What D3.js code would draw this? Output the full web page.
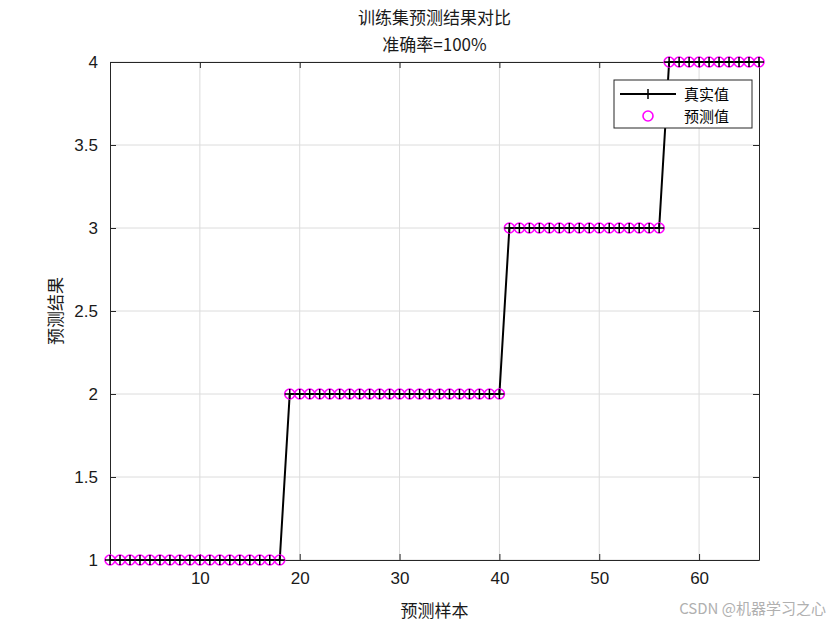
<!DOCTYPE html>
<html><head><meta charset="utf-8">
<script src="https://cdn.jsdelivr.net/npm/d3@7"></script>
<style>body{margin:0;background:#fff}</style>
</head><body><div id="container"></div>
<script>
// data: class label per sample (1..66)
let classCounts = [18, 22, 16, 10];
let classLabels = [1, 2, 3, 4];
let trueVals = [];
classCounts.forEach((c, i) => { for (let k = 0; k < c; k++) trueVals.push(classLabels[i]); });
let predVals = trueVals.slice();
let xTicks = [10, 20, 30, 40, 50, 60];
let yTicks = [1, 1.5, 2, 2.5, 3, 3.5, 4];

let w = 840, h = 630;
let pL = 110, pR = 759, pT = 62, pB = 560;
let cjk = "'Noto Sans CJK SC', sans-serif";
let num = "'Liberation Sans', Arial, sans-serif";

let svg = d3.select("#container").append("svg").attr("width", w).attr("height", h);
svg.append("rect").attr("width", w).attr("height", h).attr("fill", "#fff");

let x = d3.scaleLinear().domain([1, 66]).range([pL, pR]);
let y = d3.scaleLinear().domain([1, 4]).range([pB, pT]);

// grid
svg.selectAll(".gx").data(xTicks).enter().append("line")
  .attr("x1", d => x(d)).attr("x2", d => x(d)).attr("y1", pT).attr("y2", pB)
  .attr("stroke", "#dcdcdc").attr("stroke-width", 1);
svg.selectAll(".gy").data(yTicks).enter().append("line")
  .attr("y1", d => y(d)).attr("y2", d => y(d)).attr("x1", pL).attr("x2", pR)
  .attr("stroke", "#dcdcdc").attr("stroke-width", 1);

// axes
let xa = svg.append("g").attr("transform", `translate(0,${pB})`)
  .call(d3.axisBottom(x).tickValues(xTicks).tickSizeInner(-6).tickSizeOuter(0).tickPadding(12));
let xa2 = svg.append("g").attr("transform", `translate(0,${pT})`)
  .call(d3.axisTop(x).tickValues(xTicks).tickSizeInner(-6).tickSizeOuter(0).tickFormat(""));
let ya = svg.append("g").attr("transform", `translate(${pL},0)`)
  .call(d3.axisLeft(y).tickValues(yTicks).tickSizeInner(-6).tickSizeOuter(0).tickPadding(12).tickFormat(d3.format("")));
let ya2 = svg.append("g").attr("transform", `translate(${pR},0)`)
  .call(d3.axisRight(y).tickValues(yTicks).tickSizeInner(-6).tickSizeOuter(0).tickFormat(""));
[xa, xa2, ya, ya2].forEach(a => {
  a.selectAll("path").attr("stroke", "#262626");
  a.selectAll("line").attr("stroke", "#262626");
  a.selectAll("text").attr("font-family", num).attr("font-size", 17).attr("fill", "#1a1a1a");
});

// true line
let idx = d3.range(1, 67);
svg.append("path").datum(idx)
  .attr("d", d3.line().x(d => x(d)).y(d => y(trueVals[d - 1])))
  .attr("fill", "none").attr("stroke", "#000").attr("stroke-width", 2);
// predicted circles
svg.selectAll(".pc").data(idx).enter().append("circle")
  .attr("cx", d => x(d)).attr("cy", d => y(predVals[d - 1])).attr("r", 5)
  .attr("fill", "none").attr("stroke", "#ff00ff").attr("stroke-width", 1.6);
// plus markers
svg.selectAll(".pm").data(idx).enter().append("path")
  .attr("d", d => `M${x(d)-5},${y(trueVals[d-1])}h10M${x(d)},${y(trueVals[d-1])-5}v10`)
  .attr("stroke", "#000").attr("stroke-width", 1.5);

// legend
let lg = svg.append("g");
lg.append("rect").attr("x", 614).attr("y", 80).attr("width", 138).attr("height", 48)
  .attr("fill", "#fff").attr("stroke", "#262626");
lg.append("line").attr("x1", 620).attr("x2", 676).attr("y1", 94).attr("y2", 94).attr("stroke", "#000").attr("stroke-width", 2);
lg.append("path").attr("d", "M643,94h10M648,89v10").attr("stroke", "#000").attr("stroke-width", 1.5);
lg.append("circle").attr("cx", 648).attr("cy", 116).attr("r", 5).attr("fill", "none").attr("stroke", "#ff00ff").attr("stroke-width", 1.6);
lg.append("text").attr("x", 684).attr("y", 100).text("真实值").attr("font-family", cjk).attr("font-size", 15);
lg.append("text").attr("x", 684).attr("y", 122).text("预测值").attr("font-family", cjk).attr("font-size", 15);

// titles
svg.append("text").attr("x", (pL + pR) / 2).attr("y", 24).attr("text-anchor", "middle")
  .attr("font-family", cjk).attr("font-size", 17).attr("fill", "#1a1a1a").text("训练集预测结果对比");
svg.append("text").attr("x", (pL + pR) / 2).attr("y", 51).attr("text-anchor", "middle")
  .attr("font-family", cjk).attr("font-size", 17).attr("fill", "#1a1a1a").text("准确率=100%");
svg.append("text").attr("x", (pL + pR) / 2).attr("y", 617).attr("text-anchor", "middle")
  .attr("font-family", cjk).attr("font-size", 17).attr("fill", "#1a1a1a").text("预测样本");
svg.append("text").attr("transform", `translate(62,${(pT + pB) / 2}) rotate(-90)`).attr("text-anchor", "middle")
  .attr("font-family", cjk).attr("font-size", 17).attr("fill", "#1a1a1a").text("预测结果");

// watermark
svg.append("text").attr("x", 826).attr("y", 614).attr("text-anchor", "end")
  .attr("font-family", cjk).attr("font-size", 15).attr("fill", "#b0b0b0").text("CSDN @机器学习之心");
</script></body></html>
